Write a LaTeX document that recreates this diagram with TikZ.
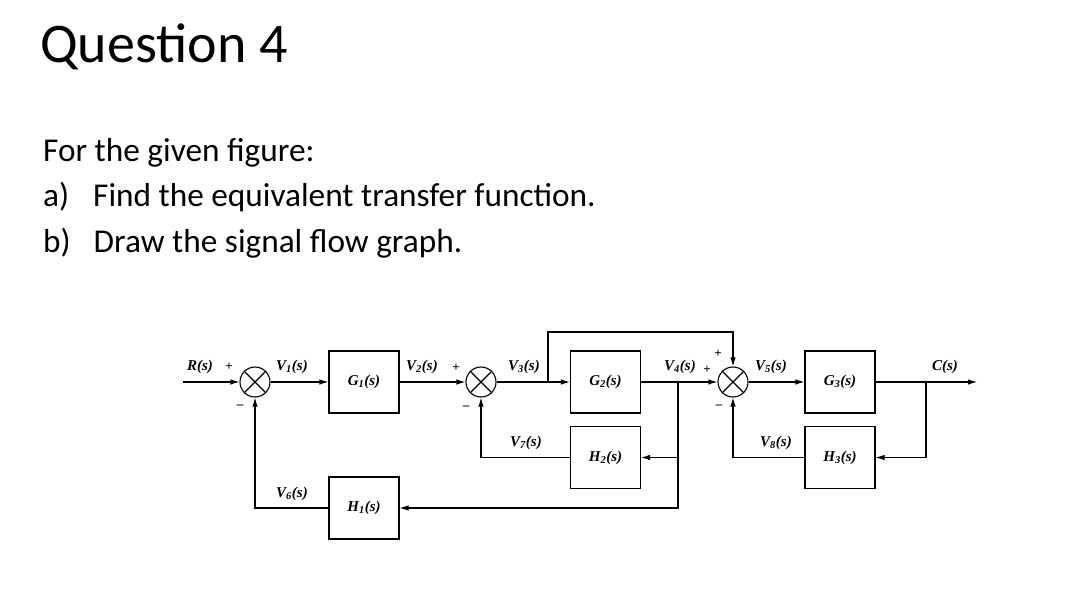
\documentclass[tikz,border=0pt]{standalone}
\usepackage{fontspec}
\setmainfont{Liberation Serif}
\newfontfamily\carl{Carlito}
\usetikzlibrary{arrows.meta}
\begin{document}
\begin{tikzpicture}[x=1pt,y=-1pt,
  blk/.style={draw,line width=1.1pt,minimum width=70pt,minimum height=62pt,inner sep=0pt,font=\fontsize{15}{15}\selectfont\itshape\bfseries},
  sumj/.style={draw,line width=1.1pt,circle,minimum size=30pt,inner sep=0pt},
  lab/.style={font=\fontsize{15}{15}\selectfont\itshape\bfseries,inner sep=0pt},
  sgn/.style={font=\fontsize{13}{13}\selectfont\bfseries,inner sep=0pt},
  ln/.style={line width=1.1pt},
  ar/.style={line width=1.1pt,-{Latex[length=9pt,width=5.5pt]}},
  txt/.style={anchor=west,inner sep=0pt,font=\carl\fontsize{33.3}{33.3}\selectfont}]
\useasboundingbox (0,0) rectangle (1088,596);
\node[txt,font=\carl\fontsize{56}{56}\selectfont] (title) at (40,47) {Question 4};
\node[txt] (t1) at (43,153) {For the given figure:};
\node[txt] (t2) at (43,197) {a)\hspace{24pt}Find the equivalent transfer function.};
\node[txt] (t3) at (43,243) {b)\hspace{23pt}Draw the signal flow graph.};
% blocks
\node[blk] (G1) at (364,382) {G\textsubscript{1}(s)};
\node[blk] (G2) at (605.5,382) {G\textsubscript{2}(s)};
\node[blk] (G3) at (840,382) {G\textsubscript{3}(s)};
\node[blk] (H1) at (364,508) {H\textsubscript{1}(s)};
\node[blk] (H2) at (605.5,457.5) {H\textsubscript{2}(s)};
\node[blk] (H3) at (840,457.5) {H\textsubscript{3}(s)};
\node[sumj] (S1) at (255,382) {};
\node[sumj] (S2) at (481,382) {};
\node[sumj] (S3) at (733,382) {};
\foreach \s in {S1,S2,S3}{
  \draw[ln] (\s.north west) -- (\s.south east);
  \draw[ln] (\s.north east) -- (\s.south west);}
\coordinate (in) at (183,382);
\coordinate (out) at (977,382);
\coordinate (b3) at (548,382);
\coordinate (b4) at (678,382);
\coordinate (bc) at (926,382);
% forward
\draw[ar] (in) -- (S1.west);
\draw[ar] (S1.east) -- (G1.west);
\draw[ar] (G1.east) -- (S2.west);
\draw[ar] (S2.east) -- (G2.west);
\draw[ar] (G2.east) -- (S3.west);
\draw[ar] (S3.east) -- (G3.west);
\draw[ar] (G3.east) -- (out);
% feedforward
\draw[ar] (b3) |- (733,332) -- (S3.north);
% feedbacks
\draw[ar] (b4) |- (H2.east);
\draw[ar] (b4) |- (H1.east);
\draw[ar] (H1.west) -| (S1.south);
\draw[ar] (H2.west) -| (S2.south);
\draw[ar] (bc) |- (H3.east);
\draw[ar] (H3.west) -| (S3.south);
% labels
\node[lab] (lR) at (200,367) {R(s)};
\node[lab] (l1) at (292,367) {V\textsubscript{1}(s)};
\node[lab] (l2) at (422,367) {V\textsubscript{2}(s)};
\node[lab] (l3) at (524,367) {V\textsubscript{3}(s)};
\node[lab] (l4) at (680,367) {V\textsubscript{4}(s)};
\node[lab] (l5) at (771,367) {V\textsubscript{5}(s)};
\node[lab] (l6) at (292,494) {V\textsubscript{6}(s)};
\node[lab] (l7) at (526,443) {V\textsubscript{7}(s)};
\node[lab] (l8) at (776,443) {V\textsubscript{8}(s)};
\node[lab] (lC) at (945,367) {C(s)};
\node[sgn] (p1) at (229,367) {+};
\node[sgn] (p2) at (456,368) {+};
\node[sgn] (p3) at (707,370) {+};
\node[sgn] (p4) at (718,354) {+};
\node[sgn] (m1) at (240,407) {--};
\node[sgn] (m2) at (466,408) {--};
\node[sgn] (m3) at (719,407) {--};
\end{tikzpicture}
\end{document}
